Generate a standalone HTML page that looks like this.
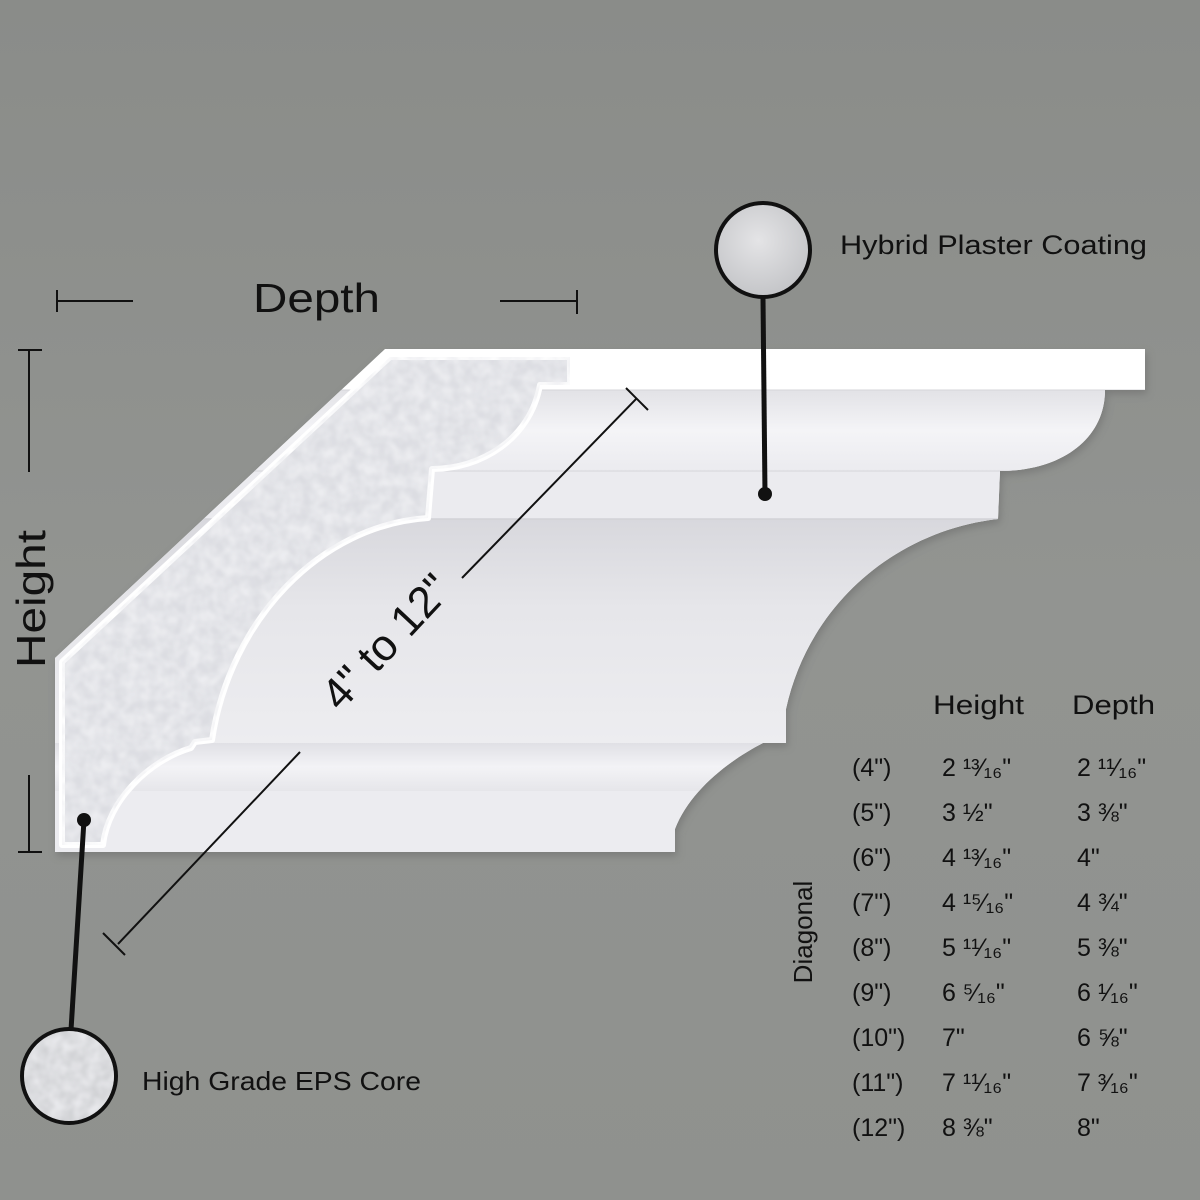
<!DOCTYPE html>
<html><head><meta charset="utf-8"><style>
html,body{margin:0;padding:0;width:1200px;height:1200px;overflow:hidden;background:#8e908c}
svg{display:block}
text{font-family:"Liberation Sans","DejaVu Sans",sans-serif;fill:#111}
</style></head><body>
<svg width="1200" height="1200" viewBox="0 0 1200 1200">
<defs>
<linearGradient id="bg" x1="0" y1="0" x2="0" y2="1"><stop offset="0" stop-color="#8a8c89"/><stop offset="0.5" stop-color="#929491"/><stop offset="1" stop-color="#8f918e"/></linearGradient>
<linearGradient id="cove" x1="0" y1="0" x2="0" y2="1"><stop offset="0" stop-color="#e2e2e6"/><stop offset="0.5" stop-color="#f4f4f7"/><stop offset="1" stop-color="#ebebef"/></linearGradient>
<linearGradient id="big" x1="0" y1="0" x2="0" y2="1"><stop offset="0" stop-color="#d8d8dd"/><stop offset="0.4" stop-color="#e6e6ea"/><stop offset="1" stop-color="#ededf0"/></linearGradient>
<linearGradient id="low" x1="0" y1="0" x2="0" y2="1"><stop offset="0" stop-color="#e0e0e5"/><stop offset="0.5" stop-color="#f3f3f6"/><stop offset="1" stop-color="#e6e6ea"/></linearGradient>
<radialGradient id="circ" cx="0.45" cy="0.4" r="0.6"><stop offset="0" stop-color="#e4e4e6"/><stop offset="1" stop-color="#c4c5c8"/></radialGradient>
<filter id="tex" x="0" y="0" width="100%" height="100%">
<feTurbulence type="fractalNoise" baseFrequency="0.08" numOctaves="2" seed="3" result="n"/>
<feColorMatrix in="n" type="matrix" values="0 0 0 0 0.86  0 0 0 0 0.865  0 0 0 0 0.89  0 0 0 -1.6 1.25" result="c"/>
<feComposite in="c" in2="SourceGraphic" operator="in"/>
</filter>
<filter id="sh"><feGaussianBlur stdDeviation="4"/></filter>
<clipPath id="outer"><path d="M55,852 L55,658 L385,349 L1145,349 L1145,390 L1105,390 C1105,440 1060,471 1000,471 L998,519 C900,530 810,600 786,709 L786,743 L763,743 C730,760 690,790 675,829 L675,852 Z"/></clipPath>
</defs>
<rect width="1200" height="1200" fill="url(#bg)"/>
<path d="M55,852 L55,658 L385,349 L1145,349 L1145,390 L1105,390 C1105,440 1060,471 1000,471 L998,519 C900,530 810,600 786,709 L786,743 L763,743 C730,760 690,790 675,829 L675,852 Z" fill="#666" opacity="0.5" filter="url(#sh)" transform="translate(2,4)"/>
<path d="M55,852 L55,658 L385,349 L1145,349 L1145,390 L1105,390 C1105,440 1060,471 1000,471 L998,519 C900,530 810,600 786,709 L786,743 L763,743 C730,760 690,790 675,829 L675,852 Z" fill="#fff"/>
<g clip-path="url(#outer)">
<rect x="0" y="390" width="1200" height="81" fill="url(#cove)"/>
<rect x="0" y="471" width="1200" height="48" fill="#ebebef"/>
<rect x="0" y="519" width="1200" height="224" fill="url(#big)"/>
<rect x="0" y="743" width="1200" height="48" fill="url(#low)"/>
<rect x="0" y="791" width="1200" height="61" fill="#ececf0"/>
<rect x="575" y="349" width="600" height="41" fill="#fff"/>
<line x1="0" y1="471" x2="1200" y2="471" stroke="#d6d6da" stroke-width="1"/>
<line x1="0" y1="519" x2="1200" y2="519" stroke="#d2d2d7" stroke-width="1.5"/>
<line x1="0" y1="390" x2="1200" y2="390" stroke="#d6d6da" stroke-width="1"/>
</g>
<path d="M62,845 L62,662 L390,357 L570,357 L570,385 L540,385 C530,440 480,469 432,469 L428,518 C320,525 230,620 212,740 L195,742 L191,748 C150,760 108,800 103,845 Z" fill="#dcdde2" stroke="#fff" stroke-width="6" stroke-linejoin="round"/>
<path d="M62,845 L62,662 L390,357 L570,357 L570,385 L540,385 C530,440 480,469 432,469 L428,518 C320,525 230,620 212,740 L195,742 L191,748 C150,760 108,800 103,845 Z" fill="#fff" filter="url(#tex)" opacity="0.9"/>
<g stroke="#111" stroke-width="2" fill="none">
<line x1="57" y1="290" x2="57" y2="312"/><line x1="57" y1="301" x2="133" y2="301"/>
<line x1="500" y1="301" x2="577" y2="301"/><line x1="577" y1="290" x2="577" y2="314"/>
<line x1="18" y1="350" x2="42" y2="350"/><line x1="29" y1="350" x2="29" y2="472"/>
<line x1="29" y1="775" x2="29" y2="852"/><line x1="18" y1="852" x2="42" y2="852"/>
<line x1="118" y1="944" x2="300" y2="752"/><line x1="103" y1="933" x2="125" y2="955"/>
<line x1="462" y1="578" x2="637" y2="398"/><line x1="626" y1="388" x2="648" y2="410"/>
</g>
<text x="253" y="312" font-size="41" textLength="127" lengthAdjust="spacingAndGlyphs">Depth</text>
<text transform="translate(45,668) rotate(-90)" font-size="41" textLength="138" lengthAdjust="spacingAndGlyphs">Height</text>
<text transform="translate(397,652) rotate(-47)" text-anchor="middle" font-size="44">4" to 12"</text>
<line x1="763" y1="298" x2="765" y2="494" stroke="#111" stroke-width="5"/>
<circle cx="765" cy="494" r="7" fill="#111"/>
<circle cx="763" cy="250" r="47" fill="url(#circ)" stroke="#111" stroke-width="4"/>
<text x="840" y="254" font-size="27" textLength="307" lengthAdjust="spacingAndGlyphs">Hybrid Plaster Coating</text>
<line x1="84" y1="820" x2="71" y2="1030" stroke="#111" stroke-width="5"/>
<circle cx="84" cy="820" r="7" fill="#111"/>
<circle cx="69" cy="1076" r="47" fill="#d2d3d6" stroke="#111" stroke-width="4"/>
<circle cx="69" cy="1076" r="45" fill="#fff" filter="url(#tex)" opacity="0.8"/>
<text x="142" y="1090" font-size="26" textLength="279" lengthAdjust="spacingAndGlyphs">High Grade EPS Core</text>
<g font-size="27"><text x="933" y="714" textLength="91" lengthAdjust="spacingAndGlyphs">Height</text><text x="1072" y="714" textLength="83" lengthAdjust="spacingAndGlyphs">Depth</text></g>
<text transform="translate(812,932) rotate(-90)" text-anchor="middle" font-size="26">Diagonal</text>
<g font-size="25">
<text x="852" y="776">(4")</text><text x="942" y="776">2 ¹³⁄₁₆"</text><text x="1077" y="776">2 ¹¹⁄₁₆"</text>
<text x="852" y="821">(5")</text><text x="942" y="821">3 ½"</text><text x="1077" y="821">3 ⅜"</text>
<text x="852" y="866">(6")</text><text x="942" y="866">4 ¹³⁄₁₆"</text><text x="1077" y="866">4"</text>
<text x="852" y="911">(7")</text><text x="942" y="911">4 ¹⁵⁄₁₆"</text><text x="1077" y="911">4 ¾"</text>
<text x="852" y="956">(8")</text><text x="942" y="956">5 ¹¹⁄₁₆"</text><text x="1077" y="956">5 ⅜"</text>
<text x="852" y="1001">(9")</text><text x="942" y="1001">6 ⁵⁄₁₆"</text><text x="1077" y="1001">6 ¹⁄₁₆"</text>
<text x="852" y="1046">(10")</text><text x="942" y="1046">7"</text><text x="1077" y="1046">6 ⅝"</text>
<text x="852" y="1091">(11")</text><text x="942" y="1091">7 ¹¹⁄₁₆"</text><text x="1077" y="1091">7 ³⁄₁₆"</text>
<text x="852" y="1136">(12")</text><text x="942" y="1136">8 ⅜"</text><text x="1077" y="1136">8"</text>
</g>
</svg>
</body></html>
